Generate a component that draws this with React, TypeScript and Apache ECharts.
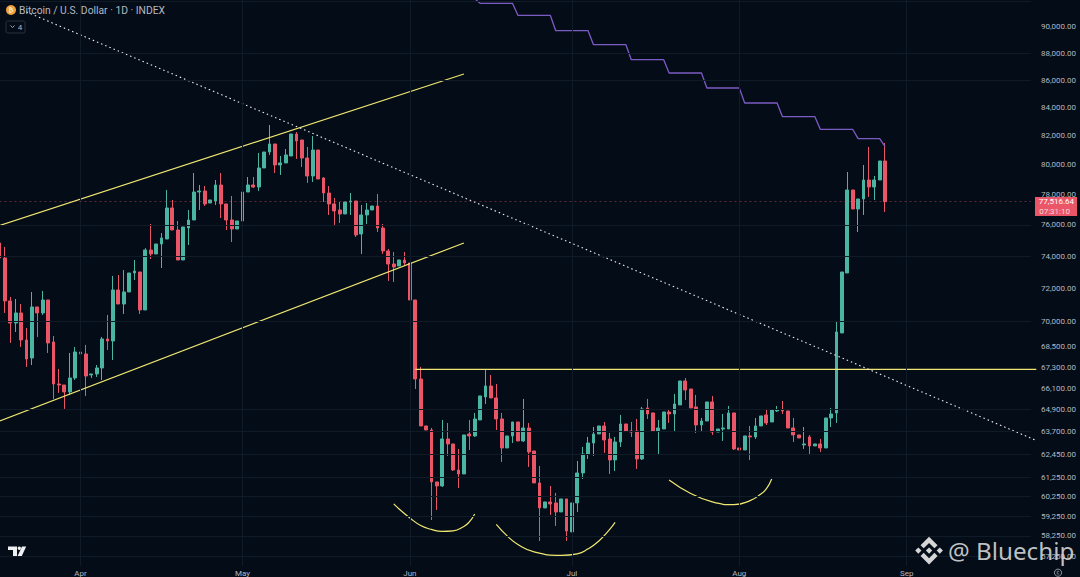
import React, { useEffect, useRef } from "react";
import * as echarts from "echarts";

const opens = [74830,73875,71210,69880,70485,68875,67823,70846,70485,71270,68757,66332,66275,65882,66674,68172,68056,66846,66903,67247,68934,68816,71882,71026,71760,72934,72996,70664,74382,74128,74765,75084,77102,75664,73749,75793,76314,78162,78229,77431,77564,78632,77366,76314,75728,76249,78162,78632,78497,79783,80881,81437,79988,80125,80605,82135,81715,80467,79238,81019,79103,78095,77366,76969,76707,77498,77564,75406,76641,76969,77232,75793,74319,73497,73372,73749,73560,71270,66617,63994,63775,61004,60796,63287,63018,61632,61422,63558,63450,64323,65601,66220,65545,64378,62802,63450,64213,63179,63885,62641,60952,59663,59970,59919,59460,60124,58452,59919,61475,62481,63070,63558,63994,63287,62161,63125,64103,63720,63720,62214,64988,64710,63720,63830,64765,64654,65154,66503,66050,65043,64048,64268,65321,63665,63830,63830,64710,62802,62695,63450,63396,63994,64600,64213,64820,64876,64820,63885,63504,62964,63396,62910,63018,62802,64433,64710,69289,72934,78296,77034,77696,78968,78497,78968,80262];
const closes = [73880,71210,69880,70485,68875,67765,70846,70485,71270,68698,66332,66275,65882,66674,68172,68056,66788,66903,67247,68934,68816,71882,71026,71760,72934,73058,70664,74382,74128,74765,75149,77102,75664,73749,75857,76314,78162,78229,77366,77630,78632,77366,76314,75728,76249,78162,78632,78497,79783,80881,81437,79988,80125,80675,82135,81645,80467,79238,81019,79035,78095,77366,76904,76707,77498,77564,75342,76641,76969,77232,75793,74319,73497,73310,73749,73560,71270,66617,63994,63775,61004,60796,63287,63018,61632,61422,63504,63450,64378,65657,66220,65545,64378,62802,63450,64213,63179,63885,62588,60952,59663,59970,59868,59460,60124,58502,59919,61475,62481,63070,63558,63994,63233,62161,63125,64103,63720,63665,62214,64932,64654,63720,63885,64765,64654,65210,66503,65994,64988,64048,64268,65321,63665,63830,63885,64710,62749,62695,63450,63396,63994,64544,64158,64876,64876,64820,63885,63504,63341,63018,62910,63018,62802,64433,64654,69348,72996,78296,77034,77696,78968,78497,78968,80262,77516.64];
const lows = [73620,70485,68700,69348,68464,67305,67417,69053,70364,68114,65489,65826,64932,65714,66560,66674,65657,66674,66731,66560,68288,67707,71026,70424,71760,72499,70424,70664,73812,74128,73245,75084,75664,73749,73749,74700,76314,76969,77232,77431,77300,76445,75664,74892,75728,76249,78162,78430,78229,79783,80675,79442,79307,80125,80605,80399,79851,78766,78833,79035,77498,76641,75989,76118,76707,76641,75213,74128,76052,76969,75535,74128,72437,72375,73372,73435,71270,66050,63994,63775,59054,59561,60744,62375,61580,60692,61422,62695,63396,64323,65210,65545,63775,62055,62802,63070,63179,63125,61790,60952,58004,59663,59307,58753,59460,58004,58452,59460,61160,62214,62375,63558,62535,61422,61580,62856,63720,63396,61685,62161,64378,63720,62428,63830,64158,63665,65154,65433,64988,63612,63720,64268,63504,63665,63179,63830,62695,62161,62695,62161,63287,63994,64048,64213,64765,64654,63885,63125,63341,62749,62428,62910,62588,62802,63938,64158,69289,72934,77034,75535,76641,77830,77630,78968,76839];
const highs = [75150,74575,71455,71331,71026,69584,71760,70846,71821,71270,69112,67189,66275,68114,68464,69230,68582,66903,67417,69053,70364,72747,72810,73121,72934,73749,72996,74500,76052,74765,75471,78296,77630,76249,75857,76969,79442,78632,78565,77630,78968,79442,77366,77896,76249,78900,79171,79171,80812,80881,82767,81437,80605,81088,82135,82276,81715,81228,81995,81019,79171,78565,77763,77498,77498,78095,77564,77300,77431,77232,78028,76052,74446,74256,73749,74256,73560,71270,67305,63994,63885,61004,64323,64158,63018,62749,63504,64323,64710,65657,67131,66845,66332,64710,63450,64213,64213,65489,64158,62641,61843,59970,60796,60433,60124,60124,59919,62108,62856,63396,63938,63994,64213,63612,63396,64600,64103,64213,64378,65045,65489,64710,64323,64765,64876,65770,66503,66674,66050,65714,64433,65321,65657,63830,64654,65099,64710,63071,63450,63994,64433,64544,64932,64876,65099,65377,64820,64433,63504,63938,63504,63018,63287,64433,64988,70002,72996,79510,78296,77696,79988,81228,79238,80262,81507];

const ceilingOffset = 88;
const ceilingValues = [92200,
  91841,91841,91841,91841,91841,91841,91841,
  90905,90905,90905,90905,90905,90905,90905,
  89716,89716,89716,89716,89716,89716,89716,
  88648,88648,88648,88648,88648,88648,88648,
  87519,87519,87519,87519,87519,87519,87519,
  86530,86530,86530,86530,86530,86530,86530,
  85428,85428,85428,85428,85428,85428,85428,
  84340,84340,84340,84340,84340,84340,84340,
  83358,83358,83358,83358,83358,83358,83358,
  82465,82465,82465,82465,82465,82465,82465,
  81805,81805,81805,81805,81805,
  81248];

const channelUpper = [[0, 75947], [86, 86457]];
const channelLower = [[0, 64268], [86, 74828]];
const neckline = [[77, 67170], [192, 67170]];
const downTrend = [[5, 91161], [192, 63206]];
const arcLeft = [[73,59868],[74,59612],[76,59155],[78,58775],[80,58577],[82,58477],[84,58502],[86,58727],[87,58953],[88,59358]];
const arcHead = [[92,58827],[94,58253],[96,57831],[99,57466],[104,57295],[107,57368],[109,57613],[111,58004],[113,58577],[114,58928]];
const arcRight = [[124,61108],[128,60407],[132,59970],[136,59832],[139,60036],[141,60382],[142,60640],[143,61160]];

const tickValues = [90000,88000,86000,84000,82000,80000,78000,76000,74000,72000,70000,68500,67300,66100,64900,63700,62450,61250,60250,59250,58250,57250];
const tickLabels = ["90,000.00","88,000.00","86,000.00","84,000.00","82,000.00","80,000.00","78,000.00","76,000.00","74,000.00","72,000.00","70,000.00","68,500.00","67,300.00","66,100.00","64,900.00","63,700.00","62,450.00","61,250.00","60,250.00","59,250.00","58,250.00","57,250.00"];
const gridValues = [92000,88000,86000,76000,74000,70000,64900,63700,62450,61250,60250,59250,58250,57250];
const monthNames = ["Jan","Feb","Mar","Apr","May","Jun","Jul","Aug","Sep","Oct","Nov","Dec"];
const lastPrice = 77516.64;
const lastPriceText = "77,516.64";
const countdownText = "07:31:10";

const categories: string[] = [];
for (let i = 0; i < 193; i++) {
  const d = new Date(Date.UTC(2024, 2, 17 + i));
  categories.push(d.toISOString().slice(0, 10));
}
const isMonthStart = (v: string) => v.endsWith("-01");
const monthStarts = categories.filter(isMonthStart);

const BG = "#040c17";
const GREEN = "#49b5a2";
const RED = "#ea5667";
const YELLOW = "#efe772";
const GRID = "#0f1b27";
const TEXT = "#b4b8c0";

let registered = false;
function registerShapes() {
  if (registered) return;
  registered = true;
  echarts.graphic.registerShape(
    "binanceLogo",
    echarts.graphic.extendPath(
      "M38.73,53.2 L63.3,28.64 87.88,53.22 102.18,38.93 63.3,0 24.43,38.87 Z M0,63.31 L14.3,49 28.6,63.31 14.3,77.6 Z M38.73,73.41 L63.3,97.97 87.88,73.4 102.19,87.68 63.3,126.61 24.44,87.74 Z M98,63.31 L112.3,49 126.61,63.3 112.3,77.6 Z M77.83,63.3 L63.3,48.76 48.76,63.3 63.3,77.83 Z",
      {}
    ) as any
  );
}

const pairs = (pts: number[][]) => pts.map(([i, v]) => [categories[i], v]);

const annotation = (name: string, pts: number[][], color: string, extra: any = {}, smooth: any = false) => ({
  name,
  type: "line",
  data: pairs(pts),
  z: 4,
  showSymbol: false,
  symbol: "none",
  silent: true,
  smooth,
  lineStyle: { color, width: 1.2, ...extra },
});

export default function App() {
  const ref = useRef<HTMLDivElement>(null);
  useEffect(() => {
    document.body.style.margin = "0";
    document.body.style.background = BG;
    registerShapes();
    const chart = echarts.init(ref.current!, undefined, { renderer: "svg" });
    chart.setOption({
      animation: false,
      backgroundColor: BG,
      grid: { left: -3.2, right: 41, top: 0, bottom: 11, containLabel: false, outerBoundsMode: "none" },
      xAxis: {
        type: "category",
        data: categories,
        boundaryGap: true,
        axisLine: { show: false },
        axisTick: { show: false },
        splitLine: { show: false },
        axisLabel: {
          show: true,
          interval: (_i: number, v: string) => isMonthStart(v),
          formatter: (v: string) => monthNames[Number(v.slice(5, 7)) - 1],
          color: TEXT,
          fontSize: 8,
          fontFamily: "Roboto",
          margin: 3,
        },
      },
      yAxis: {
        type: "log",
        logBase: 10,
        min: 56775,
        max: 92101,
        position: "right",
        axisLine: { show: false },
        axisTick: { show: false },
        axisLabel: { show: false },
        splitLine: { show: false },
      },
      series: [
        {
          name: "grid",
          type: "line",
          data: [],
          z: 1,
          silent: true,
          markLine: {
            silent: true,
            animation: false,
            symbol: "none",
            label: { show: false },
            lineStyle: { color: GRID, width: 1, type: "solid" },
            data: [
              ...gridValues.map((v) => [
                { coord: [categories[0], v] },
                { coord: [categories[191], v] },
              ]),
              ...monthStarts.map((m) => ({ xAxis: m })),
            ],
          },
        },
        {
          name: "BTCUSD",
          type: "candlestick",
          z: 3,
          barWidth: 3.2,
          silent: true,
          data: opens.map((o, i) => [o, closes[i], lows[i], highs[i]]),
          itemStyle: {
            color: GREEN,
            color0: RED,
            borderColor: GREEN,
            borderColor0: RED,
            borderWidth: 1,
          },
        },
        {
          name: "ceiling",
          type: "line",
          data: new Array(ceilingOffset).fill(null).concat(ceilingValues),
          z: 4,
          showSymbol: false,
          symbol: "none",
          silent: true,
          lineStyle: { color: "#7d5bc4", width: 1.3 },
        },
        annotation("channelUpper", channelUpper, YELLOW),
        annotation("channelLower", channelLower, YELLOW),
        annotation("neckline", neckline, YELLOW),
        annotation("downTrend", downTrend, "#eef0f4", { type: [1.5, 3], width: 1.1 }),
        annotation("arcLeft", arcLeft, YELLOW, {}, 0.5),
        annotation("arcHead", arcHead, YELLOW, {}, 0.5),
        annotation("arcRight", arcRight, YELLOW, {}, 0.5),
        {
          name: "labels",
          type: "line",
          data: [],
          z: 5,
          silent: true,
          markLine: {
            silent: true,
            animation: false,
            symbol: "none",
            lineStyle: { color: "rgba(0,0,0,0)", width: 1 },
            label: {
              show: true,
              position: "end",
              formatter: "{b}",
              distance: 10,
              color: TEXT,
              fontSize: 8,
              fontFamily: "Roboto",
            },
            data: tickValues.map((v, i) => [
              { name: tickLabels[i], coord: [categories[190], v] },
              { coord: [categories[191], v] },
            ]),
          },
        },
        {
          name: "last",
          type: "line",
          data: [],
          z: 2,
          silent: true,
          markLine: {
            silent: true,
            animation: false,
            symbol: "none",
            label: { show: false },
            lineStyle: { color: "rgba(234,86,103,0.4)", width: 1, type: [2, 3] },
            data: [[{ coord: [categories[0], lastPrice] }, { coord: [categories[191], lastPrice] }]],
          },
        },
      ],
      graphic: {
        elements: [
          { type: "circle", z: 100, shape: { cx: 11, cy: 10, r: 5 }, style: { fill: "#f0a13c" } },
          { type: "text", z: 101, x: 11, y: 10, style: { text: "₿", fill: "#fff", font: "7px 'DejaVu Sans'", textAlign: "center", textVerticalAlign: "middle" } },
          { type: "text", z: 100, x: 19, y: 10, style: { text: "Bitcoin / U.S. Dollar · 1D · INDEX", fill: TEXT, font: "10.3px Roboto", textAlign: "left", textVerticalAlign: "middle" } },
          { type: "rect", z: 100, shape: { x: 6, y: 21, width: 19, height: 12, r: 1.5 }, style: { fill: BG, stroke: "#2a3340", lineWidth: 1 } },
          { type: "polyline", z: 101, shape: { points: [[10.5, 25.5], [12.5, 27.5], [14.5, 25.5]] }, style: { stroke: TEXT, lineWidth: 0.9, fill: "none" } },
          { type: "text", z: 101, x: 20, y: 27, style: { text: "4", fill: TEXT, font: "8px Roboto", textAlign: "center", textVerticalAlign: "middle" } },
          { type: "rect", z: 100, shape: { x: 1035, y: 197, width: 42, height: 19 }, style: { fill: RED } },
          { type: "text", z: 101, x: 1074, y: 201.5, style: { text: lastPriceText, fill: "#ffffff", font: "8px Roboto", textAlign: "right", textVerticalAlign: "middle" } },
          { type: "text", z: 101, x: 1070, y: 211, style: { text: countdownText, fill: "#f6d5da", font: "8px Roboto", textAlign: "right", textVerticalAlign: "middle" } },
          { type: "polygon", z: 100, shape: { points: [[8, 546.5], [17, 546.5], [17, 556], [13, 556], [13, 550], [8, 550]] }, style: { fill: "#eef0f2" } },
          { type: "circle", z: 100, shape: { cx: 19.3, cy: 548.2, r: 1.7 }, style: { fill: "#eef0f2" } },
          { type: "polygon", z: 100, shape: { points: [[22, 546.5], [26.2, 546.5], [21.8, 556], [17.6, 556]] }, style: { fill: "#eef0f2" } },
          { type: "binanceLogo", z: 100, x: 915.2, y: 536.7, scaleX: 0.219, scaleY: 0.219, style: { fill: "#d6d6d6" } },
          { type: "text", z: 100, x: 948, y: 550, style: { text: "@ Bluechip", fill: "rgba(218,218,218,0.88)", font: "24.2px 'Noto Sans'", textAlign: "left", textVerticalAlign: "middle" } },
          { type: "circle", z: 100, shape: { cx: 1058, cy: 572.7, r: 3.6 }, style: { fill: "none", stroke: TEXT, lineWidth: 0.8 } },
          { type: "polyline", z: 100, shape: { points: [[1059.3, 571.3], [1057.2, 571.3], [1057.2, 574], [1059.3, 574]] }, style: { fill: "none", stroke: TEXT, lineWidth: 0.6 } },
        ],
      },
    });
    return () => chart.dispose();
  }, []);
  return <div ref={ref} style={{ position: "fixed", left: 0, top: 0, width: 1080, height: 577 }} />;
}
